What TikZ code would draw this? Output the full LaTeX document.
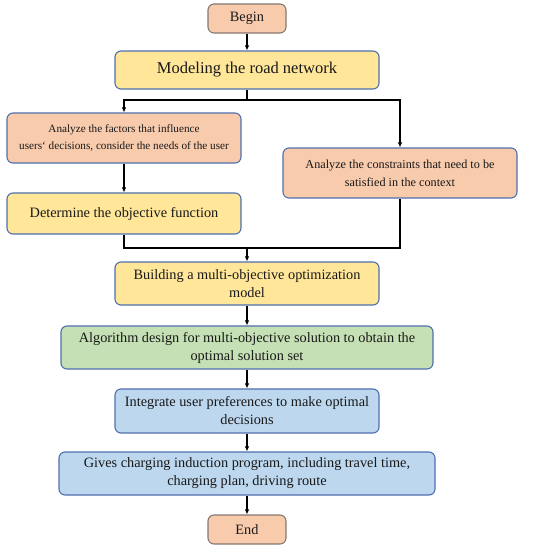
\documentclass[tikz,border=0pt]{standalone}
\usepackage{fontspec}
\setmainfont{Liberation Serif}
\usepackage{xcolor}
\usetikzlibrary{arrows.meta}
\definecolor{salmon}{HTML}{F8CBAD}
\definecolor{sand}{HTML}{FFE699}
\definecolor{mint}{HTML}{C5E0B4}
\definecolor{sky}{HTML}{BDD7EE}
\definecolor{edgeblue}{HTML}{4F6FAD}
\definecolor{edgegray}{HTML}{857870}
\tikzset{
  box/.style={draw=edgeblue, line width=1.1pt, rounded corners=6pt, align=center,
    inner sep=0pt, text=black!90},
  term/.style={box, draw=edgegray, fill=salmon, minimum width=78pt, minimum height=29pt,
    font=\fontsize{14.3}{17}\selectfont},
  wide/.style={box, minimum height=43pt, font=\fontsize{14.3}{18}\selectfont},
  arr/.style={-{Latex[length=5pt,width=4.5pt]}, line width=1.3pt}
}
\begin{document}
\begin{tikzpicture}[x=1pt,y=-1pt]
\useasboundingbox (0,0) rectangle (546,550);
\node[term] (begin) at (247,18.5) {Begin};
\node[wide, fill=sand, minimum width=264pt, minimum height=38pt,
  font=\fontsize{16.5}{20}\selectfont] (model) at (247,70) {Modeling the road network};
\node[wide, fill=salmon, minimum width=234pt, minimum height=50pt,
  font=\fontsize{11.2}{17.7}\selectfont] (factor) at (124,138)
  {Analyze the factors that influence\\users‘ decisions, consider the needs of the user};
\node[wide, fill=salmon, minimum width=234pt, minimum height=50pt,
  font=\fontsize{12.2}{17.7}\selectfont] (constr) at (400,173)
  {Analyze the constraints that need to be\\satisfied in the context};
\node[wide, fill=sand, minimum width=234pt, minimum height=41pt] (objfun) at (124,213.5)
  {Determine the objective function};
\node[wide, fill=sand, minimum width=264pt] (build) at (247,283.5)
  {Building a multi-objective optimization\\model};
\node[wide, fill=mint, minimum width=372pt] (algo) at (247,347.5)
  {Algorithm design for multi-objective solution to obtain the\\optimal solution set};
\node[wide, fill=sky, minimum width=264pt, minimum height=44pt] (pref) at (247,411)
  {Integrate user preferences to make optimal\\decisions};
\node[wide, fill=sky, minimum width=376pt] (gives) at (247,473.5)
  {Gives charging induction program, including travel time,\\charging plan, driving route};
\node[term] (end) at (247,529.5) {End};
% split and join points
\coordinate (split) at (247,100);
\coordinate (join) at (247,248);
\draw[arr] (begin) -- (model);
\draw[line width=1.3pt] (model) -- (split);
\draw[arr] (split) -| (factor);
\draw[arr] (split) -| (constr);
\draw[arr] (factor) -- (objfun);
\draw[line width=1.3pt] (objfun) |- (join) -| (constr);
\draw[arr] (join) -- (build);
\draw[arr] (build) -- (algo);
\draw[arr] (algo) -- (pref);
\draw[arr] (pref) -- (gives);
\draw[arr] (gives) -- (end);
\end{tikzpicture}
\end{document}
